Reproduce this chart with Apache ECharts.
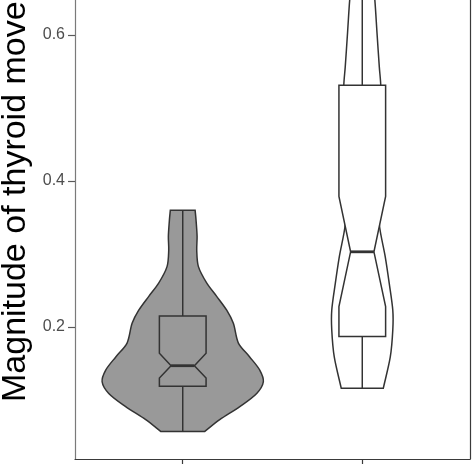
<!DOCTYPE html>
<html>
<head>
<meta charset="utf-8">
<title>violin</title>
<script src="https://cdn.jsdelivr.net/npm/echarts@6/dist/echarts.min.js"></script>
<style>
	html, body { margin: 0; padding: 0; background: #fff; }
	#chart { width: 474px; height: 474px; }
</style>
</head>
<body>
<div id="chart"></div>
<script>
let groups = [1, 2]
// violin outline, bottom to top: value and half width (x axis units)
let violinY1 = [0.057, 0.073, 0.091, 0.109, 0.125, 0.141, 0.159, 0.178, 0.205, 0.223, 0.242, 0.260, 0.283, 0.305, 0.324, 0.347, 0.360]
let violinW1 = [0.123, 0.206, 0.318, 0.412, 0.449, 0.429, 0.373, 0.310, 0.282, 0.245, 0.189, 0.134, 0.087, 0.078, 0.080, 0.074, 0.069]
let violinY2 = [0.116, 0.159, 0.196, 0.223, 0.260, 0.296, 0.340, 0.370, 0.420, 0.480, 0.531, 0.556, 0.603, 0.648, 0.700, 0.760]
let violinW2 = [0.117, 0.156, 0.170, 0.170, 0.150, 0.128, 0.095, 0.097, 0.103, 0.106, 0.103, 0.095, 0.082, 0.070, 0.050, 0.028]
// notched box stats per group
let whiskerLow = [0.057, 0.116]
let q1 = [0.119, 0.187]
let notchLow = [0.130, 0.228]
let median = [0.147, 0.303]
let notchHigh = [0.164, 0.379]
let q3 = [0.215, 0.531]
let whiskerHigh = [0.360, 0.760]
let yTicks = [0.2, 0.4, 0.6]

let violinY = [violinY1, violinY2]
let violinW = [violinW1, violinW2]
let fills = ['#999999', '#ffffff']
let lineColor = '#333333'
let boxHalf = 0.13

function violinItem(params, api) {
	let i = params.dataIndex
	let c = api.value(0)
	let ys = violinY[i]
	let ws = violinW[i]
	let last = ys.length - 1
	let left = []
	let right = []
	for (let k = 0; k <= last; k++) {
		let l = api.coord([c - ws[k], ys[k]])
		let r = api.coord([c + ws[k], ys[k]])
		left.push(l)
		right.unshift(r)
		// doubled end points keep the flat top and bottom corners sharp
		if (k == 0 || k == last) {
			left.push(l)
			right.unshift(r)
		}
	}
	return {
		type: 'polygon',
		shape: { points: left.concat(right), smooth: 0.3 },
		style: { fill: fills[i], stroke: lineColor, lineWidth: 1.5 }
	}
}

function boxItem(params, api) {
	let i = params.dataIndex
	let c = api.value(0)
	let h = boxHalf
	let n = boxHalf / 2
	let p = function(dx, v) {
		return api.coord([c + dx, v])
	}
	let lineStyle = { stroke: lineColor, lineWidth: 1.5 }
	let a = p(0, whiskerLow[i])
	let b = p(0, q1[i])
	let d = p(0, q3[i])
	let e = p(0, whiskerHigh[i])
	return {
		type: 'group',
		children: [
			{ type: 'line', shape: { x1: a[0], y1: a[1], x2: b[0], y2: b[1] }, style: lineStyle },
			{ type: 'line', shape: { x1: d[0], y1: d[1], x2: e[0], y2: e[1] }, style: lineStyle },
			{
				type: 'polygon',
				shape: {
					points: [
						p(-h, q3[i]), p(h, q3[i]), p(h, notchHigh[i]), p(n, median[i]),
						p(h, notchLow[i]), p(h, q1[i]), p(-h, q1[i]), p(-h, notchLow[i]),
						p(-n, median[i]), p(-h, notchHigh[i])
					]
				},
				style: { fill: fills[i], stroke: lineColor, lineWidth: 1.5 }
			},
			{
				type: 'line',
				shape: {
					x1: p(-n, median[i])[0], y1: p(-n, median[i])[1],
					x2: p(n, median[i])[0], y2: p(n, median[i])[1]
				},
				style: { stroke: lineColor, lineWidth: 2.8 }
			}
		]
	}
}

function _chartViolin(id) {
	var dom = document.getElementById(id)
	var myChart = echarts.init(dom, null, { renderer: 'canvas' })
	var option = {
		animation: false,
		backgroundColor: '#ffffff',
		grid: { left: 75, right: 4, top: 0, bottom: 15 },
		xAxis: {
			type: 'value',
			min: 0.4,
			max: 2.6,
			splitLine: { show: false },
			axisLine: { lineStyle: { color: '#3a3a3a', width: 1.2 } },
			axisTick: {
				customValues: groups,
				length: 5,
				lineStyle: { color: '#3a3a3a', width: 1.2 }
			},
			axisLabel: { show: false }
		},
		yAxis: [
			{
				type: 'value',
				min: 0.0192,
				max: 0.6479,
				splitLine: { show: false },
				axisLine: { show: true, lineStyle: { color: '#7a7a7a', width: 1.2 } },
				axisTick: {
					show: true,
					customValues: yTicks,
					length: 7,
					lineStyle: { color: '#5a5a5a', width: 1.2 }
				},
				axisLabel: {
					customValues: yTicks,
					margin: 10,
					color: '#4d4d4d',
					fontSize: 16,
					fontFamily: 'Liberation Sans, Arial, sans-serif',
					formatter: function(v) {
						return v.toFixed(1)
					}
				}
			},
			{
				type: 'value',
				position: 'right',
				min: 0.0192,
				max: 0.6479,
				splitLine: { show: false },
				axisLine: { show: true, lineStyle: { color: '#3a3a3a', width: 1.2 } },
				axisTick: { show: false },
				axisLabel: { show: false }
			}
		],
		graphic: [
			{
				type: 'text',
				x: 16,
				y: 402,
				rotation: Math.PI / 2,
				style: {
					text: 'Magnitude of thyroid movement',
					fill: '#000000',
					fontSize: 34,
					fontFamily: 'Liberation Sans, Arial, sans-serif',
					textAlign: 'left',
					textVerticalAlign: 'middle'
				}
			}
		],
		series: [
			{
				type: 'custom',
				clip: true,
				renderItem: violinItem,
				data: groups.map(g => [g])
			},
			{
				type: 'custom',
				clip: true,
				renderItem: boxItem,
				data: groups.map(g => [g])
			}
		]
	}
	myChart.setOption(option)
	return myChart
}

_chartViolin('chart')
</script>
</body>
</html>
